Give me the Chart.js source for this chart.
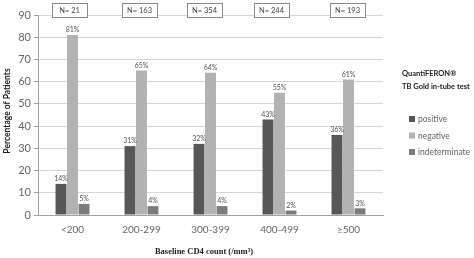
<!DOCTYPE html>
<html><head><meta charset="utf-8">
<script src="https://cdn.jsdelivr.net/npm/chart.js@4/dist/chart.umd.min.js"></script>
<style>html,body{margin:0;padding:0;background:#fff}canvas{display:block}</style>
</head><body>
<canvas id="c" width="474" height="258"></canvas>
<script>
const categories = ['<200', '200-299', '300-399', '400-499', '\u2265500'];
const groupN = ['N= 21', 'N= 163', 'N= 354', 'N= 244', 'N= 193'];
const positive = [14, 31, 32, 43, 36];
const negative = [81, 65, 64, 55, 61];
const indeterminate = [5, 4, 4, 2, 3];
const yTicks = [0, 10, 20, 30, 40, 50, 60, 70, 80, 90];
const legendTitle = ['QuantiFERON\u00AE', 'TB Gold in-tube test'];
const xTitle = 'Baseline CD4 count (/mm\u00B3)';
const yTitle = 'Percentage of Patients';

const boxOffsets = [-3, -2, -6, -8, -1];

const extras = {
  id: 'extras',
  afterDatasetsDraw(chart) {
    const ctx = chart.ctx;
    ctx.save();
    ctx.font = '7px Lato, "DejaVu Sans", sans-serif';
    ctx.fillStyle = '#555';
    ctx.textAlign = 'center';
    ctx.textBaseline = 'middle';
    chart.data.datasets.forEach((ds, di) => {
      chart.getDatasetMeta(di).data.forEach((bar, i) => {
        ctx.fillText(ds.data[i] + '%', bar.x, bar.y - 5);
      });
    });
    const xs = chart.scales.x;
    ctx.font = '7.5px Lato, "DejaVu Sans", sans-serif';
    groupN.forEach((t, i) => {
      const cx = xs.getPixelForValue(i) + boxOffsets[i];
      const w = 35, h = 14, top = 3.5;
      ctx.fillStyle = '#fff';
      ctx.fillRect(cx - w / 2, top, w, h);
      ctx.strokeStyle = '#8a8a8a';
      ctx.lineWidth = 1;
      ctx.strokeRect(Math.round(cx - w / 2) + 0.5, top, w, h);
      ctx.fillStyle = '#444';
      ctx.fillText(t, cx, top + h / 2 + 0.5);
    });
    ctx.textAlign = 'left';
    ctx.fillStyle = '#222';
    ctx.font = 'bold 7.5px Lato, "DejaVu Sans", sans-serif';
    ctx.fillText(legendTitle[0], 402, 74);
    ctx.fillText(legendTitle[1], 402, 87);
    ctx.font = '8.5px Lato, "DejaVu Sans", sans-serif';
    chart.data.datasets.forEach((ds, di) => {
      const y = 119 + di * 16.5;
      ctx.fillStyle = ds.backgroundColor;
      ctx.fillRect(409, y - 3, 6, 6);
      ctx.fillStyle = '#666';
      ctx.fillText(ds.label, 418, y + 0.5);
    });
    ctx.fillStyle = '#222';
    ctx.textAlign = 'center';
    ctx.font = 'bold 8.5px "Liberation Serif", serif';
    ctx.fillText(xTitle, 204, 252);
    ctx.save();
    ctx.translate(7, 111);
    ctx.rotate(-Math.PI / 2);
    ctx.font = 'bold 8.5px Lato, "DejaVu Sans", sans-serif';
    ctx.fillText(yTitle, 0, 0);
    ctx.restore();
    ctx.restore();
  }
};

new Chart(document.getElementById('c'), {
  type: 'bar',
  data: {
    labels: categories,
    datasets: [
      { label: 'positive', data: positive, backgroundColor: '#575757' },
      { label: 'negative', data: negative, backgroundColor: '#b2b2b2' },
      { label: 'indeterminate', data: indeterminate, backgroundColor: '#7c7c7c' }
    ]
  },
  options: {
    responsive: false,
    animation: false,
    events: [],
    layout: { padding: { left: 0, right: 91, top: 15, bottom: 0 } },
    plugins: { legend: { display: false }, tooltip: { enabled: false } },
    datasets: { bar: { categoryPercentage: 0.5, barPercentage: 0.95 } },
    scales: {
      x: {
        grid: { display: false, drawTicks: false, tickLength: 0 },
        border: { display: true, color: '#a0a0a0' },
        ticks: { color: '#666', font: { family: 'Lato, "DejaVu Sans", sans-serif', size: 10 }, padding: 9 },
        afterFit(s) { s.height = 43; }
      },
      y: {
        min: 0, max: 90,
        afterBuildTicks(s) { s.ticks = yTicks.map(v => ({ value: v })); },
        grid: { color: '#d6d6d6', tickLength: 4, tickColor: '#a0a0a0' },
        border: { display: true, color: '#a0a0a0' },
        ticks: { color: '#666', font: { family: 'Lato, "DejaVu Sans", sans-serif', size: 11 }, padding: 3 },
        afterFit(s) { s.width = 38; }
      }
    }
  },
  plugins: [extras]
});
</script>
</body></html>
